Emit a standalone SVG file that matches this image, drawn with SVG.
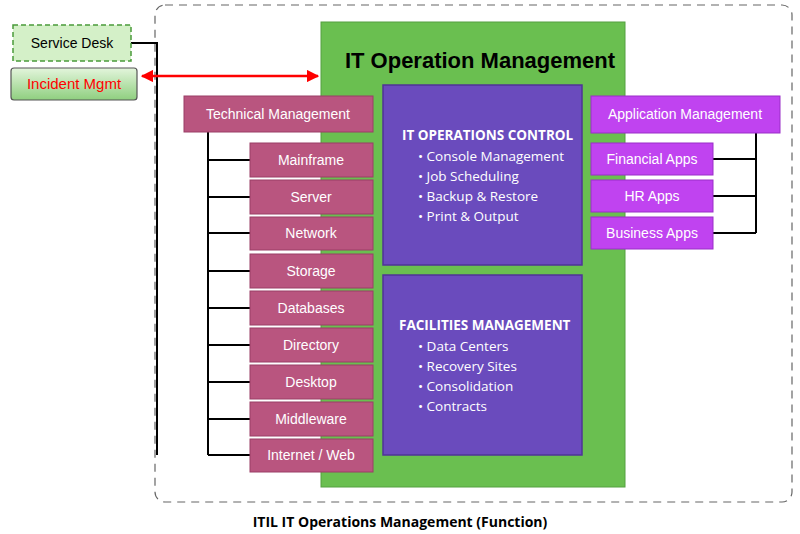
<svg xmlns="http://www.w3.org/2000/svg" width="800" height="534" viewBox="0 0 800 534">
<style>
text{font-family:"Liberation Sans",Arial,sans-serif}
.t{fill:#b9557f;stroke:#9a3f66;stroke-width:1}
.tt{fill:#fff;font-size:14px;text-anchor:middle}
.a{fill:#c043f0;stroke:#9a2fc8;stroke-width:1}
.p{fill:#6a4bbd;stroke:#4f3596;stroke-width:1.5}
.pt{fill:#fff;font-family:"Open Sans","Liberation Sans",sans-serif;font-size:13.5px}
.ln{stroke:#000;stroke-width:2;fill:none}
</style>
<defs>
<linearGradient id="ig" x1="0" y1="0" x2="0" y2="1"><stop offset="0" stop-color="#e3f5dc"/><stop offset="1" stop-color="#8fcf7f"/></linearGradient>
<marker id="ar" viewBox="0 0 10 10" refX="9" refY="5" markerWidth="5" markerHeight="5" orient="auto-start-reverse"><path d="M0,0L10,5L0,10z" fill="#f00"/></marker>
</defs>
<rect x="0" y="0" width="800" height="534" fill="#fff"/>
<rect x="155" y="5" width="637" height="497" rx="10" fill="none" stroke="#666" stroke-width="1.2" stroke-dasharray="8,6"/>
<rect id="green" x="321" y="22" width="304" height="465" fill="#6abf50" stroke="#55a040"/>
<text x="480" y="68" font-size="22" font-weight="bold" text-anchor="middle">IT Operation Management</text>
<g id="connectors">
<path class="ln" d="M131,43H157V455"/>
<path class="ln" d="M208,132V455M208,160H250M208,197H250M208,233H250M208,271H250M208,308H250M208,345H250M208,382H250M208,419H250M208,455H250"/>
<path class="ln" d="M756,133V233M713,159H756M713,196H756M713,233H756"/>
<path d="M142,76H318" stroke="#f00" stroke-width="2.5" marker-start="url(#ar)" marker-end="url(#ar)"/>
</g>
<g id="servicedesk"><rect x="13" y="25" width="118" height="36" fill="#d4f0c8" stroke="#4a9a3a" stroke-width="1.5" stroke-dasharray="5,3"/><text x="72" y="48" font-size="14" text-anchor="middle">Service Desk</text></g>
<g id="incident"><rect x="11" y="68" width="126" height="32" rx="3" fill="url(#ig)" stroke="#555" stroke-width="1.2"/><text x="74" y="89" font-size="15" fill="#f00" text-anchor="middle">Incident Mgmt</text></g>
<g id="itoc"><rect class="p" x="383" y="85" width="199" height="180"/>
<text class="pt" x="402" y="140" font-weight="bold">IT OPERATIONS CONTROL</text>
<text class="pt" x="418" y="161">• Console Management</text>
<text class="pt" x="418" y="181">• Job Scheduling</text>
<text class="pt" x="418" y="201">• Backup &amp; Restore</text>
<text class="pt" x="418" y="221">• Print &amp; Output</text></g>
<g id="facilities"><rect class="p" x="383" y="275" width="199" height="180"/>
<text class="pt" x="399" y="330" font-weight="bold">FACILITIES MANAGEMENT</text>
<text class="pt" x="418" y="351">• Data Centers</text>
<text class="pt" x="418" y="371">• Recovery Sites</text>
<text class="pt" x="418" y="391">• Consolidation</text>
<text class="pt" x="418" y="411">• Contracts</text></g>
<g id="techmgmt"><rect class="t" x="184" y="96" width="189" height="36"/><text class="tt" x="278" y="119">Technical Management</text></g>
<g id="mainframe"><rect class="t" x="250" y="143" width="123" height="34"/><text class="tt" x="311" y="165">Mainframe</text></g>
<g id="server"><rect class="t" x="250" y="180" width="123" height="34"/><text class="tt" x="311" y="202">Server</text></g>
<g id="network"><rect class="t" x="250" y="217" width="123" height="33"/><text class="tt" x="311" y="238">Network</text></g>
<g id="storage"><rect class="t" x="250" y="254" width="123" height="34"/><text class="tt" x="311" y="276">Storage</text></g>
<g id="databases"><rect class="t" x="250" y="291" width="123" height="34"/><text class="tt" x="311" y="313">Databases</text></g>
<g id="directory"><rect class="t" x="250" y="328" width="123" height="34"/><text class="tt" x="311" y="350">Directory</text></g>
<g id="desktop"><rect class="t" x="250" y="365" width="123" height="34"/><text class="tt" x="311" y="387">Desktop</text></g>
<g id="middleware"><rect class="t" x="250" y="402" width="123" height="34"/><text class="tt" x="311" y="424">Middleware</text></g>
<g id="internet"><rect class="t" x="250" y="439" width="123" height="33"/><text class="tt" x="311" y="460">Internet / Web</text></g>
<g id="appmgmt"><rect class="a" x="591" y="96" width="189" height="37"/><text class="tt" x="685" y="119">Application Management</text></g>
<g id="financial"><rect class="a" x="591" y="143" width="122" height="32"/><text class="tt" x="652" y="164">Financial Apps</text></g>
<g id="hr"><rect class="a" x="591" y="180" width="122" height="32"/><text class="tt" x="652" y="201">HR Apps</text></g>
<g id="business"><rect class="a" x="591" y="217" width="122" height="32"/><text class="tt" x="652" y="238">Business Apps</text></g>
<text x="400" y="527" font-size="14" font-weight="bold" font-family="Open Sans,Liberation Sans,sans-serif" text-anchor="middle" style="font-family:'Open Sans','Liberation Sans',sans-serif">ITIL IT Operations Management (Function)</text>
</svg>
